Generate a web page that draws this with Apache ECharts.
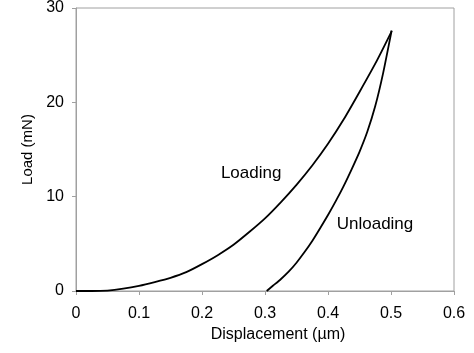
<!DOCTYPE html>
<html>
<head>
<meta charset="utf-8">
<script src="https://cdn.jsdelivr.net/npm/echarts@6/dist/echarts.min.js"></script>
<style>
  html, body { margin: 0; padding: 0; background: #fff; }
  #chart { width: 474px; height: 353px; }
</style>
</head>
<body>
<div id="chart"></div>
<script>
// loading curve (displacement in um, load in mN)
const loadX = [0, 0.025, 0.05, 0.075, 0.1, 0.125, 0.15, 0.175, 0.2, 0.225, 0.25, 0.275, 0.3, 0.325, 0.35, 0.375, 0.4, 0.425, 0.45, 0.475, 0.5, 0.501];
const loadY = [0, 0, 0.05, 0.25, 0.55, 0.95, 1.4, 2.0, 2.85, 3.8, 4.9, 6.25, 7.7, 9.4, 11.25, 13.3, 15.6, 18.2, 21.1, 24.1, 27.4, 27.6];

// unloading curve, from the peak down
const unloadX = [0.501, 0.4875, 0.475, 0.4625, 0.45, 0.4375, 0.425, 0.4125, 0.4, 0.3875, 0.375, 0.3625, 0.35, 0.3375, 0.325, 0.3125, 0.3027];
const unloadY = [27.6, 23.1, 19.6, 16.9, 14.75, 12.9, 11.15, 9.55, 8.05, 6.65, 5.3, 4.1, 3.0, 2.05, 1.25, 0.55, 0];

const xTicks = { min: 0, max: 0.6, interval: 0.1 };
const yTicks = { min: 0, max: 30, interval: 10 };

const font = 'Liberation Sans';
const gray = '#a0a0a0';

function pairs(xs, ys) {
  return xs.map((x, i) => [x, ys[i]]);
}

const chart = echarts.init(document.getElementById('chart'));

const axisCommon = {
  type: 'value',
  nameLocation: 'middle',
  axisLine: { show: true, lineStyle: { color: gray, width: 1 } },
  axisTick: { show: true, length: 4, lineStyle: { color: gray } },
  splitLine: { show: false }
};

const textLabel = (name, coord) => ({
  symbol: 'circle', symbolSize: 0,
  label: { show: true, position: 'inside', fontFamily: font, fontSize: 17, color: '#000', formatter: p => p.name },
  data: [{ name: name, coord: coord }]
});

chart.setOption({
  animation: false,
  grid: {
    left: 76, right: 20, top: 8, bottom: 62,
    show: true, borderColor: gray, borderWidth: 1, backgroundColor: '#fff'
  },
  xAxis: Object.assign({}, axisCommon, {
    min: xTicks.min, max: xTicks.max, interval: xTicks.interval,
    name: 'Displacement (\u00b5m)',
    nameGap: 34,
    nameTextStyle: { fontFamily: font, fontSize: 16, color: '#000', padding: [0, 0, 0, 26] },
    axisLabel: { fontFamily: font, fontSize: 16, color: '#000', margin: 15,
      formatter: v => v === 0 ? '0' : v.toFixed(1) }
  }),
  yAxis: Object.assign({}, axisCommon, {
    min: yTicks.min, max: yTicks.max, interval: yTicks.interval,
    name: 'Load (mN)',
    nameGap: 39,
    nameTextStyle: { fontFamily: font, fontSize: 15, color: '#000' },
    axisLabel: { fontFamily: font, fontSize: 16, color: '#000', margin: 12 }
  }),
  series: [
    {
      name: 'Loading',
      type: 'line',
      data: pairs(loadX, loadY),
      smooth: 0.2,
      showSymbol: false,
      lineStyle: { color: '#000', width: 1.8 },
      markPoint: textLabel('Loading', [0.278, 12.5])
    },
    {
      name: 'Unloading',
      type: 'line',
      data: pairs(unloadX, unloadY),
      smooth: 0.2,
      showSymbol: false,
      lineStyle: { color: '#000', width: 1.8 },
      markPoint: textLabel('Unloading', [0.4746, 7.1])
    }
  ]
});
</script>
</body>
</html>
